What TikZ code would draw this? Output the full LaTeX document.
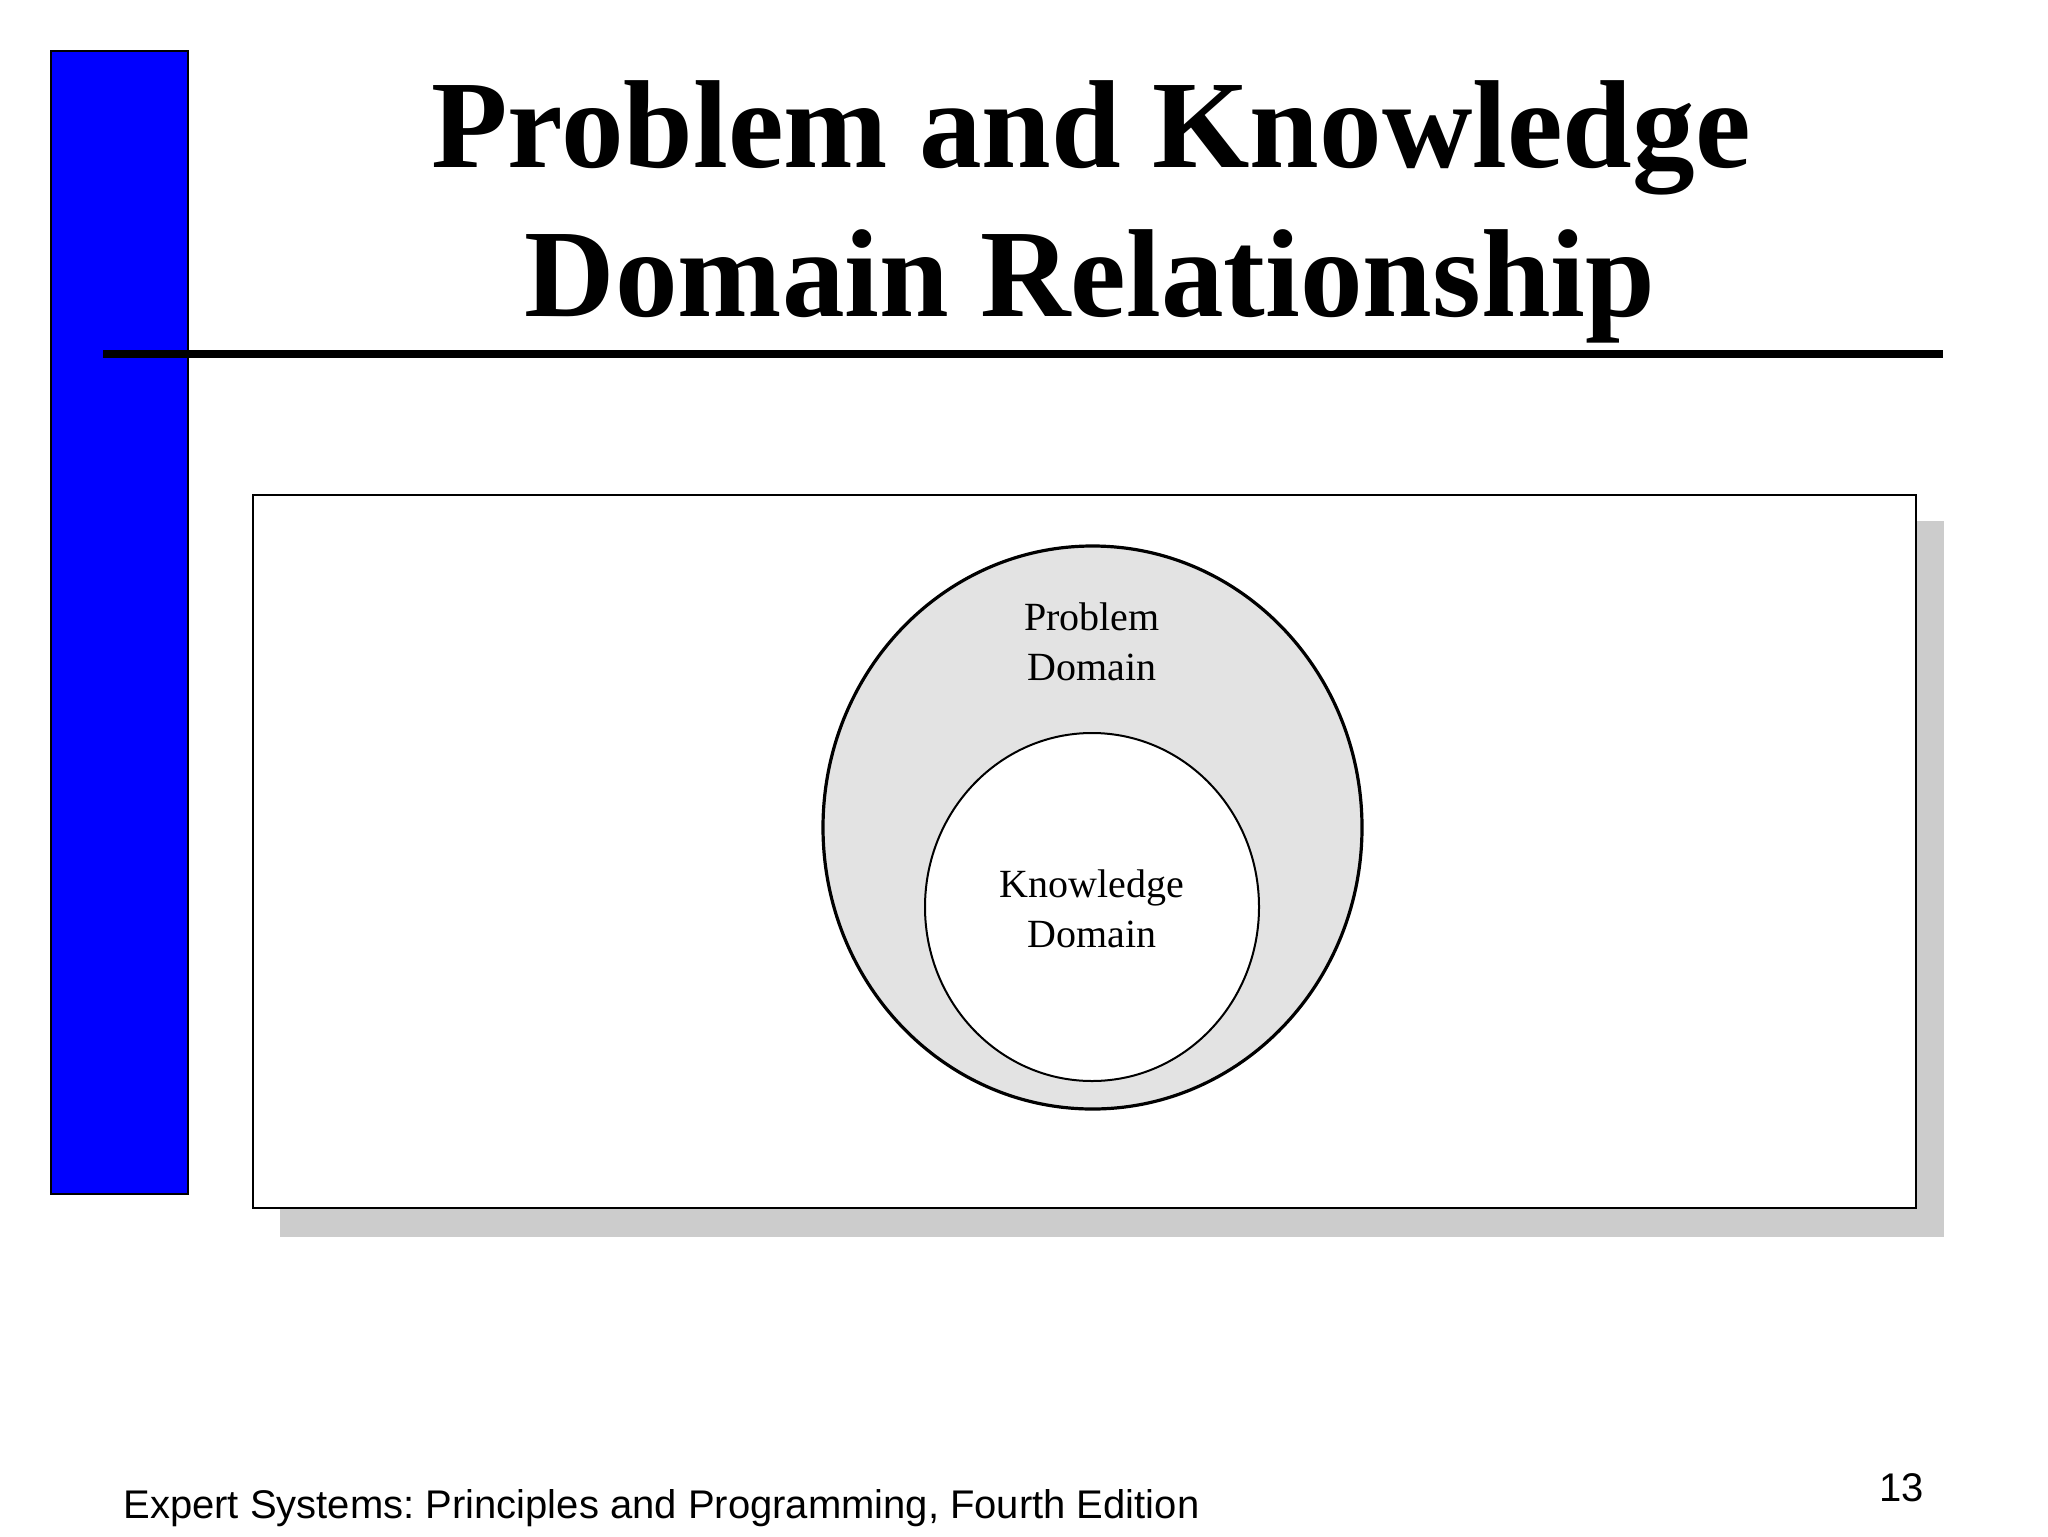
\documentclass[tikz,border=0pt]{standalone}
\usepackage{fontspec}
\setmainfont{Liberation Serif}
\setsansfont{Liberation Sans}
\definecolor{shadowgray}{HTML}{CCCCCC}
\definecolor{probgray}{HTML}{E3E3E3}
\definecolor{barblue}{HTML}{0000FF}
\begin{document}
\frenchspacing
\begin{tikzpicture}[x=0.5pt,y=-0.5pt,
  txt/.style={inner sep=0pt,anchor=base},
  titletxt/.style={txt,font=\fontsize{62.6}{70}\selectfont\bfseries},
  labeltxt/.style={txt,font=\fontsize{20}{24}\selectfont},
  foottxt/.style={inner sep=0pt,font=\sffamily\fontsize{20}{24}\selectfont}]
\useasboundingbox (0,0) rectangle (2048,1536);
\fill[white] (0,0) rectangle (2048,1536);
% blue bar
\filldraw[fill=barblue,draw=black,line width=0.6pt] (51,51) rectangle (188,1194);
% rule
\draw[line width=4pt] (103,354) -- (1943,354);
% title
\node[titletxt] (t1) at (1091,167) {Problem and Knowledge};
\node[titletxt] (t2) at (1090,316) {Domain Relationship};
% framed box with shadow
\fill[shadowgray] (280,521) rectangle (1944,1237);
\filldraw[fill=white,draw=black,line width=1.2pt] (253,495) rectangle (1916,1208);
% domains
\filldraw[fill=probgray,draw=black,line width=1.6pt] (1092.5,827.5) ellipse [x radius=269.5, y radius=281.5];
\filldraw[fill=white,draw=black,line width=1pt] (1092,907) ellipse [x radius=167, y radius=174];
\node[labeltxt] (p1) at (1092,630) {Problem};
\node[labeltxt] (p2) at (1092,680) {Domain};
\node[labeltxt] (k1) at (1092,897) {Knowledge};
\node[labeltxt] (k2) at (1092,947) {Domain};
% footer
\node[foottxt,anchor=base west] (foot) at (123,1518) {Expert Systems: Principles and Programming, Fourth Edition};
\node[foottxt,anchor=base east] (page) at (1924,1501) {13};
\end{tikzpicture}
\end{document}
